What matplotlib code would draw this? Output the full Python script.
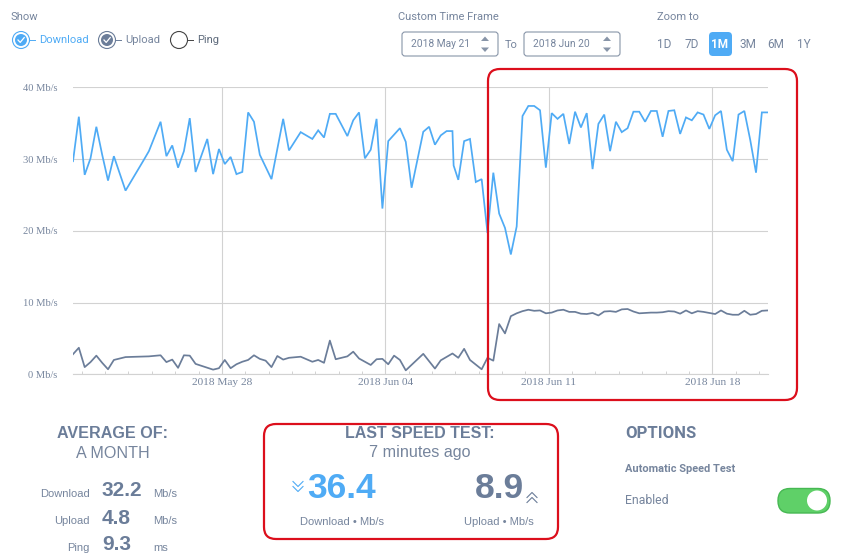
import matplotlib
matplotlib.use("Agg")
import matplotlib.pyplot as plt
import matplotlib.dates as mdates
from matplotlib.patches import Circle, FancyBboxPatch, Polygon
import pandas as pd

# samples are 6 hours apart, counted from the start time
start_time = "2018-05-21 15:00"

download_idx = [0, 1, 2, 3, 4, 5, 6, 7, 9, 12, 13, 15, 16, 17, 18, 19, 20, 21, 23, 24, 25, 26, 27, 28, 29,
                30, 31, 32, 34, 36, 37, 39, 41, 42, 43, 44, 45, 47, 48, 49, 50, 51, 52, 53, 54, 56, 57, 58,
                60, 61, 62, 63, 64, 65, 65.2, 66, 67, 68, 69, 70, 71, 72, 73, 74, 75, 76, 77, 78, 79, 80,
                81, 82, 83, 84, 85, 86, 87, 88, 89, 90, 91, 92, 93, 94, 95, 96, 97, 98, 99, 100, 101, 102,
                103, 104, 105, 106, 107, 108, 109, 110, 111, 112, 113, 114, 115, 116, 117, 118, 119]
download_vals = [29.7, 35.9, 27.8, 30.1, 34.5, 30.6, 27.0, 30.4, 25.6, 29.7, 31.1, 35.2, 30.4, 31.9, 28.8,
                 31.1, 35.7, 28.2, 32.8, 27.9, 31.4, 29.3, 30.3, 27.9, 28.2,
                 36.5, 35.2, 30.6, 27.2, 35.6, 31.2, 33.75, 32.8, 34.0, 33.0, 36.3, 36.3, 33.2, 35.4, 36.5,
                 30.1, 31.3, 35.6, 23.1, 32.5, 34.3, 32.4, 26.0,
                 33.8, 34.5, 32.0, 33.3, 33.9, 33.9, 29.1, 27.1, 32.5, 32.8, 26.8, 27.2, 19.7, 28.1, 22.4,
                 20.4, 16.7, 20.6, 36.0, 37.4, 37.4, 36.8,
                 28.8, 36.4, 35.6, 36.3, 32.1, 36.6, 34.4, 36.4, 28.6, 34.9, 36.2, 31.1, 35.2, 33.75, 34.3,
                 36.6, 36.6, 35.2, 36.7, 36.7, 33.1, 36.7,
                 36.8, 33.5, 35.8, 35.4, 36.5, 36.2, 34.2, 36.1, 36.7, 31.3, 29.7, 36.2, 36.7, 32.7, 28.1,
                 36.5, 36.5]

upload_idx = [0, 1, 2, 3, 4, 5, 6, 7, 9, 13, 15, 16, 17, 18, 19, 20, 21, 24, 25, 26, 27, 28, 29,
              30, 31, 32, 33, 34, 35, 36, 37, 39, 41, 42, 43, 44, 45, 47, 48, 49, 51, 52, 53, 54, 55, 56, 57,
              60, 62, 63, 65, 66, 67, 68, 70, 71, 72, 73, 74, 75, 76, 77, 78, 79, 80,
              81, 82, 83, 84, 85, 86, 87, 88, 89, 90, 91, 92, 93, 94, 95, 96, 97, 98, 99, 100, 101, 102,
              103, 104, 105, 106, 107, 108, 109, 110, 111, 112, 113, 114, 115, 116, 117, 118, 119]
upload_vals = [2.8, 3.7, 1.0, 1.7, 2.6, 1.6, 0.7, 2.0, 2.4, 2.5, 2.65, 1.7, 2.05, 0.9, 2.65, 2.6, 1.45,
               0.65, 0.85, 2.0, 0.85, 1.4, 1.75,
               2.0, 2.65, 2.15, 1.9, 1.0, 2.55, 2.05, 2.3, 2.45, 1.75, 2.0, 1.6, 4.7, 2.1, 2.5, 3.15, 2.2,
               1.3, 2.1, 2.15, 1.4, 2.6, 2.0, 0.55,
               2.85, 0.8, 1.95, 2.9, 2.3, 3.55, 2.0, 0.7, 2.3, 1.9, 7.0, 5.7, 8.1, 8.5, 8.8, 9.0, 8.85, 8.9,
               8.5, 8.6, 8.9, 9.0, 8.7, 8.7, 8.45, 8.4, 8.55, 8.2, 8.75, 8.8, 8.7, 9.05, 9.1,
               8.75, 8.5, 8.55, 8.6, 8.6, 8.65, 8.8,
               8.75, 8.45, 8.9, 8.5, 8.8, 8.7, 8.55, 8.4, 8.9, 8.45, 8.3, 8.3, 8.85, 8.3, 8.4, 8.85, 8.9]

y_ticks = [0, 10, 20, 30, 40]
week_ticks = ["2018-05-28", "2018-06-04", "2018-06-11", "2018-06-18"]
zoom_labels = ["1D", "7D", "1M", "3M", "6M", "1Y"]
avg_rows = [("Download", "32.2", "Mb/s"), ("Upload", "4.8", "Mb/s"), ("Ping", "9.3", "ms")]

BLUE = "#4fabf5"
SLATE = "#6b7d99"
TEXT = "#76859d"
GRID = "#d2d2d2"
RED = "#dc0f1c"
W, H = 845, 558

plt.rcParams["font.family"] = ["Liberation Sans", "DejaVu Sans"]

fig = plt.figure(figsize=(W / 100, H / 100), dpi=100)

# chart area, placed by pixels
left, right, top, bottom = 73, 767.7, 87.3, 374.3
ax = fig.add_axes([left / W, 1 - bottom / H, (right - left) / W, (bottom - top) / H])

t0 = pd.Timestamp(start_time)
download_t = [t0 + pd.Timedelta(hours=6 * i) for i in download_idx]
upload_t = [t0 + pd.Timedelta(hours=6 * i) for i in upload_idx]

ax.plot(download_t, download_vals, color=BLUE, lw=1.25, solid_joinstyle="miter", zorder=3)
ax.plot(upload_t, upload_vals, color=SLATE, lw=1.25, zorder=3)
ax.set_xlim(t0, t0 + pd.Timedelta(hours=6 * 119))
ax.set_ylim(0, 40)

ax.set_yticks(y_ticks)
ax.set_yticklabels([f"{v} Mb/s" for v in y_ticks], family="Liberation Serif", fontsize=7.6, color=TEXT)
ax.set_xticks([mdates.date2num(pd.Timestamp(d)) for d in week_ticks])
ax.set_xticklabels([pd.Timestamp(d).strftime("%Y %b %d") for d in week_ticks],
                   family="Liberation Serif", fontsize=8.2, color=TEXT)
ax.xaxis.set_minor_locator(mdates.DayLocator())
ax.tick_params(axis="x", which="major", length=0, pad=2.5)
ax.tick_params(axis="x", which="minor", direction="in", length=2.2, width=0.7, color=GRID)
ax.tick_params(axis="y", length=0, pad=11)
ax.grid(True, which="major", color=GRID, lw=0.8)
ax.set_axisbelow(True)
for name, sp in ax.spines.items():
    sp.set_visible(name == "bottom")
    sp.set_color(GRID)
    sp.set_linewidth(0.8)
ax.patch.set_alpha(0)

# everything around the chart sits on an overlay in pixel coordinates
ui = fig.add_axes([0, 0, 1, 1], zorder=5)
ui.set_xlim(0, W)
ui.set_ylim(H, 0)
ui.axis("off")
ui.patch.set_alpha(0)


def label(x, y, s, size=8, color=TEXT, ha="left", weight="normal", family="Roboto"):
    ui.text(x, y, s, fontsize=size, color=color, ha=ha, va="center", fontweight=weight, family=family)


def rbox(x0, y0, x1, y1, rad, **kw):
    ui.add_patch(FancyBboxPatch((x0 + rad, y0 + rad), x1 - x0 - 2 * rad, y1 - y0 - 2 * rad,
                                boxstyle=f"round,pad={rad}", **kw))


def radio(cx, cy, color, fill):
    ui.add_patch(Circle((cx, cy), 8.5, fc="white", ec=color, lw=0.8))
    if fill:
        ui.add_patch(Circle((cx, cy), 6, fc=fill, ec="none"))
        ui.plot([cx - 3, cx - 0.8, cx + 3.2], [cy, cy + 2.4, cy - 2.4], color="white", lw=0.9)
    ui.plot([cx + 8.5, cx + 14], [cy, cy], color=color, lw=0.7)


def chevrons(cx, cy, up, color):
    d = -1 if up else 1
    for off in (-3, 2):
        ui.plot([cx - 5, cx, cx + 5], [cy + off - d * 2.5, cy + off + d * 2.5, cy + off - d * 2.5],
                color=color, lw=0.8)


# top controls
label(11, 17, "Show")
radio(21, 40, BLUE, BLUE)
label(39, 40, "Download", color=BLUE)
radio(107, 40, SLATE, SLATE)
label(125, 40, "Upload")
radio(179, 40, "#444444", None)
label(197, 40, "Ping", color="#5f6b7c")

label(398, 17, "Custom Time Frame")
label(505, 45, "To")
for x0, s in ((402, "2018 May 21"), (524, "2018 Jun 20")):
    rbox(x0, 32, x0 + 96, 56, 3, fc="white", ec="#8895a8", lw=0.8)
    label(x0 + 9, 44, s, size=7.4)
    tx = x0 + 83
    ui.add_patch(Polygon([(tx - 4, 41), (tx + 4, 41), (tx, 36.5)], fc="#8895a8", ec="none"))
    ui.add_patch(Polygon([(tx - 4, 47.5), (tx + 4, 47.5), (tx, 52)], fc="#8895a8", ec="none"))

label(657, 17, "Zoom to")
rbox(709, 32, 732, 56, 4, fc=BLUE, ec="none")
for x, s in zip((664, 692, 720, 748, 776, 804), zoom_labels):
    if s == "1M":
        label(x, 45, s, size=8.5, color="white", ha="center", weight="bold")
    else:
        label(x, 45, s, size=8.5, ha="center")

# average panel
label(113, 434, "AVERAGE OF:", size=11.6, ha="center", weight="bold", family="Liberation Sans", color=SLATE)
label(113, 453, "A MONTH", size=11.6, ha="center", family="Liberation Sans")
for y, (name, val, unit) in zip((494, 521, 548), avg_rows):
    label(90, y, name, size=8, ha="right", family="Liberation Sans")
    label(102, y - 3, val, size=15, weight="bold", family="Liberation Sans", color=SLATE)
    label(153, y, unit, size=8, family="Liberation Sans")

# last speed test panel
rbox(264, 424, 558, 539, 12, fc="none", ec=RED, lw=1.6)
label(420, 434, "LAST SPEED TEST:", size=11.5, ha="center", weight="bold", family="Liberation Sans", color=SLATE)
label(420, 453, "7 minutes ago", size=11.6, ha="center", family="Liberation Sans")
label(307, 489, "36.4", size=25.5, weight="bold", family="Liberation Sans", color=BLUE)
label(475, 489, "8.9", size=25.5, weight="bold", family="Liberation Sans", color=SLATE)
chevrons(298, 487, False, BLUE)
chevrons(532, 498, True, SLATE)
label(342, 522, "Download • Mb/s", size=8, ha="center", family="Liberation Sans")
label(499, 522, "Upload • Mb/s", size=8, ha="center", family="Liberation Sans")

# options panel
label(625, 433, "OPTIONS", size=12, weight="bold", color=SLATE)
label(625, 469, "Automatic Speed Test", size=7.9, weight="bold")
label(625, 500, "Enabled", size=8.8)
rbox(778, 488.5, 830, 513, 12, fc="#5fd068", ec="#47b853", lw=1)
ui.add_patch(Circle((817, 500.5), 10, fc="white", ec="none"))

# highlight around the last ten days
rbox(488, 69, 797, 400, 12, fc="none", ec=RED, lw=1.6)

fig.savefig("out.png", dpi=100)
